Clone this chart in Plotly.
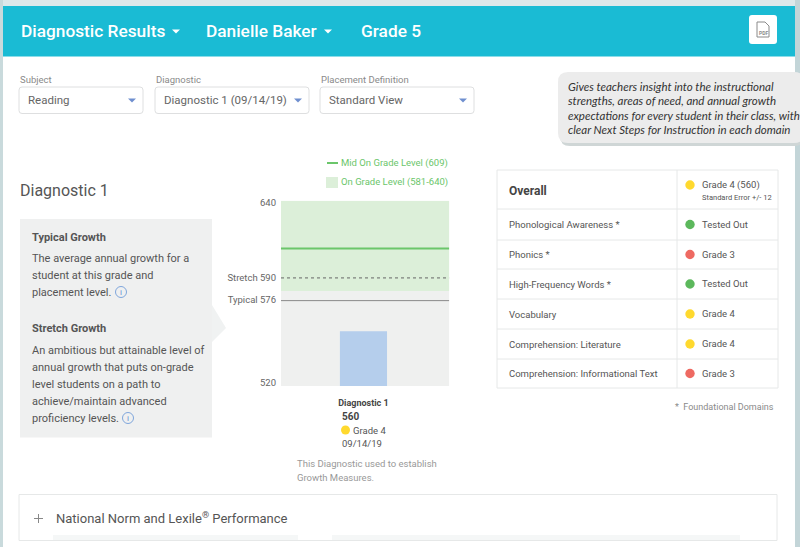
import plotly.graph_objects as go

# Chart values
categories = ['Diagnostic 1']
bar_values = [555.5]  # bar top sits below the printed score of 560
y_min, y_max = 520, 640
x_min, x_max = -0.49, 0.51
y_tick_vals = [522, 576, 590, 639]
y_tick_labels = ['520', 'Typical 576', 'Stretch 590', '640']
mid_level = 609
stretch_level = 590
typical_level = 575.3
band_low, band_high = 581.5, 640

# Table on the right
domains = ['Phonological Awareness *', 'Phonics *', 'High-Frequency Words *', 'Vocabulary',
           'Comprehension: Literature', 'Comprehension: Informational Text']
placements = ['Tested Out', 'Grade 3', 'Tested Out', 'Grade 4', 'Grade 4', 'Grade 3']
row_edges = [170, 209, 240, 269, 299, 329, 359, 388]

status_colors = {'Grade 4': '#FFD92E', 'Grade 3': '#EE6A62', 'Tested Out': '#5CB85C'}

# Text in the side panel, with line positions
panel_lines = [
    ('<b>Typical Growth</b>', 237), ('The average annual growth for a', 258),
    ('student at this grade and', 275), ('placement level.', 292),
    ('<b>Stretch Growth</b>', 328), ('An ambitious but attainable level of', 350),
    ('annual growth that puts on-grade', 367), ('level students on a path to', 384),
    ('achieve/maintain advanced', 401), ('proficiency levels.', 418),
]
callout_lines = ['Gives teachers insight into the instructional',
                 'strengths, areas of need, and annual growth',
                 'expectations for every student in their class, with',
                 'clear Next Steps for Instruction in each domain']

TEAL = '#1ABBD4'
TEXT = '#555555'
PANEL = '#EFF0F0'
LINE = '#E6E8E8'
GREEN = '#6BC66B'
FONT = 'Roboto'

fig = go.Figure()
shapes = []
notes = []


def text(x, y, s, size=10, color=TEXT, anchor='left', family=FONT, weight=None, italic=False):
    font = dict(size=size, color=color, family=family)
    if weight:
        font['weight'] = weight
    if italic:
        font['style'] = 'italic'
    notes.append(dict(x=x, y=y, xref='x', yref='y', text=s, showarrow=False, font=font,
                      xanchor=anchor, yanchor='middle', borderpad=0))


def rect(x0, y0, x1, y1, fill='rgba(0,0,0,0)', line=None, width=1):
    shapes.append(dict(type='rect', xref='x', yref='y', x0=x0, y0=y0, x1=x1, y1=y1, fillcolor=fill,
                       line=dict(color=line or 'rgba(0,0,0,0)', width=width if line else 0), layer='below'))


def path(d, fill='rgba(0,0,0,0)', line=None, width=1):
    shapes.append(dict(type='path', xref='x', yref='y', path=d, fillcolor=fill,
                       line=dict(color=line or 'rgba(0,0,0,0)', width=width if line else 0), layer='below'))


def round_rect(x0, y0, x1, y1, r, fill='rgba(0,0,0,0)', line=None, width=1):
    d = (f'M {x0+r} {y0} L {x1-r} {y0} Q {x1} {y0} {x1} {y0+r} L {x1} {y1-r} Q {x1} {y1} {x1-r} {y1} '
         f'L {x0+r} {y1} Q {x0} {y1} {x0} {y1-r} L {x0} {y0+r} Q {x0} {y0} {x0+r} {y0} Z')
    path(d, fill, line, width)


def circle(x, y, r, fill='rgba(0,0,0,0)', line=None, width=1):
    shapes.append(dict(type='circle', xref='x', yref='y', x0=x-r, y0=y-r, x1=x+r, y1=y+r, fillcolor=fill,
                       line=dict(color=line or 'rgba(0,0,0,0)', width=width if line else 0), layer='below'))


def hline(x0, y, x1, color=LINE, width=1):
    shapes.append(dict(type='line', xref='x', yref='y', x0=x0, y0=y, x1=x1, y1=y,
                       line=dict(color=color, width=width), layer='below'))


def vline(x, y0, y1, color=LINE, width=1):
    shapes.append(dict(type='line', xref='x', yref='y', x0=x, y0=y0, x1=x, y1=y1,
                       line=dict(color=color, width=width), layer='below'))


def caret(x, y, color='#6F8FCF', w=4, h=4):
    path(f'M {x-w} {y-h/2} L {x+w} {y-h/2} L {x} {y+h/2} Z', color)


# Window edges
rect(0, 0, 800, 6, '#DDE8EA')
rect(0, 0, 3, 547, '#C9DADC')
rect(795, 0, 800, 547, '#C3D5D8')
rect(3, 6, 795, 547, '#FFFFFF')

# Header bar
rect(3, 6, 795, 56.5, TEAL)
text(20, 31, 'Diagnostic Results', 17.3, 'white', weight=500)
caret(176, 31.5, 'white')
text(205, 31, 'Danielle Baker', 17.3, 'white', weight=500)
caret(328, 31.5, 'white')
text(360, 31, 'Grade 5', 17.3, 'white', weight=500)
round_rect(749, 15, 777, 44, 3, 'white')
path('M 757 22 L 765 22 L 769 26 L 769 37 L 757 37 Z', 'white', '#8A8A8A', 1)
text(763, 33, '<b>PDF</b>', 5, '#8A8A8A', anchor='center')

# Dropdowns
for x0, x1, label, value in [(19, 143, 'Subject', 'Reading'),
                             (155, 309, 'Diagnostic', 'Diagnostic 1 (09/14/19)'),
                             (320, 474, 'Placement Definition', 'Standard View')]:
    text(x0, 79, label, 9.5, '#8A8A8A')
    round_rect(x0, 87, x1, 113.5, 3, 'white', '#DEDFE0')
    text(x0 + 8, 100, value, 11.5, '#666666')
    caret(x1 - 11, 100.5)

# Callout
round_rect(560, 75, 804, 146, 10, '#CFD6D6')
round_rect(558, 72, 804, 143, 10, '#ECECEC')
for i, line_text in enumerate(callout_lines):
    text(566.5, 86 + i * 14.5, line_text, 11.5, '#333333', family='Lato', italic=True)

# Side panel
text(19, 190, 'Diagnostic 1', 16, '#555555')
rect(20, 219, 212, 437.5, PANEL)
path('M 212 305 L 226 328 L 212 342 Z', '#F0F2F2')
for line_text, y in panel_lines:
    text(31, y, line_text, 11, '#555555')
for x, y in [(121, 292), (128, 418)]:
    circle(x, y, 5.5, 'rgba(0,0,0,0)', '#7FA6DC', 1)
    text(x, y, 'i', 8, '#5F8FD6', anchor='center')

# Legend above the chart
hline(327, 163, 338, GREEN, 2)
text(449, 163, 'Mid On Grade Level (609)', 9.5, GREEN, anchor='right')
rect(326, 177, 338, 188, '#DCEFD9')
text(449, 181.5, 'On Grade Level (581-640)', 9.5, GREEN, anchor='right')

# Under the chart
text(341, 416, '<b>560</b>', 10, '#444444')
circle(345.5, 430, 4.5, status_colors['Grade 4'])
text(352, 430, 'Grade 4', 9.5, '#555555')
text(341, 443.5, '09/14/19', 9.5, '#555555')
text(296, 463, 'This Diagnostic used to establish', 9.5, '#999999')
text(296, 477, 'Growth Measures.', 9.5, '#999999')

# Table
rect(497, 170, 778, 388, 'white', LINE, 1)
vline(677, 170, 388)
for y in row_edges[1:-1]:
    hline(497, y, 778)
text(508, 190.5, '<b>Overall</b>', 12, '#444444')
circle(690, 185, 4.7, status_colors['Grade 4'])
text(700.5, 185, 'Grade 4 (560)', 9.5, '#555555')
text(700.5, 197.5, 'Standard Error +/- 12', 7.5, '#555555')
for i, (domain, placement) in enumerate(zip(domains, placements)):
    y = (row_edges[i + 1] + row_edges[i + 2]) / 2
    text(508, y, domain, 9.5, '#555555')
    circle(690, y, 4.7, status_colors[placement])
    text(700.5, y - 0.5, placement, 9.5, '#555555')
text(775, 406.5, '*  Foundational Domains', 9, '#8A8A8A', anchor='right')

# Bottom card
rect(19, 494.5, 777, 540.5, 'white', LINE, 1)
rect(53, 535, 298, 540, '#F5F7F7')
rect(332, 535, 740, 540, '#F5F7F7')
hline(34, 518.5, 43, '#888888')
vline(38.5, 514, 523, '#888888')
text(55, 518, 'National Norm and Lexile<sup>®</sup> Performance', 13, '#555555')

# The bar chart itself, on its own axes placed over the page
fig.add_trace(go.Scatter(x=[None], y=[None], mode='markers', showlegend=False, hoverinfo='skip'))
fig.add_trace(go.Bar(x=[0], y=bar_values, width=0.28, marker=dict(color='#B5CEEC', line=dict(width=0)),
                     hoverinfo='skip', xaxis='x2', yaxis='y2'))

chart_shapes = [
    dict(type='rect', xref='x2', yref='y2', x0=x_min, x1=x_max, y0=y_min, y1=y_max,
         fillcolor='#EFF0EF', line=dict(width=0), layer='below'),
    dict(type='rect', xref='x2', yref='y2', x0=x_min, x1=x_max, y0=band_low, y1=band_high,
         fillcolor='#DCEFD9', line=dict(width=0), layer='below'),
    dict(type='line', xref='x2', yref='y2', x0=x_min, x1=x_max, y0=mid_level, y1=mid_level,
         line=dict(color=GREEN, width=2), layer='above'),
    dict(type='line', xref='x2', yref='y2', x0=x_min, x1=x_max, y0=stretch_level, y1=stretch_level,
         line=dict(color='#666666', width=1, dash='3px,3px'), layer='above'),
    dict(type='line', xref='x2', yref='y2', x0=x_min, x1=x_max, y0=typical_level, y1=typical_level,
         line=dict(color='#8A8A8A', width=1), layer='above'),
]

fig.update_layout(
    template='none',
    width=800, height=547, margin=dict(l=0, r=0, t=0, b=0),
    paper_bgcolor='white', plot_bgcolor='rgba(0,0,0,0)', showlegend=False,
    font=dict(family=FONT, color=TEXT),
    shapes=shapes + chart_shapes, annotations=notes,
    xaxis=dict(domain=[0, 1], range=[0, 800], visible=False, fixedrange=True),
    yaxis=dict(domain=[0, 1], range=[547, 0], visible=False, fixedrange=True),
    xaxis2=dict(domain=[281 / 800, 449.3 / 800], range=[x_min, x_max], anchor='y2', fixedrange=True,
                showgrid=False, zeroline=False, showline=False, ticks='outside', ticklen=8,
                tickcolor='rgba(0,0,0,0)', tickvals=[0], ticktext=['<b>' + c + '</b>' for c in categories],
                tickfont=dict(size=9, color='#444444')),
    yaxis2=dict(domain=[1 - 386 / 547, 1 - 200.7 / 547], range=[y_min, y_max], anchor='x2', fixedrange=True,
                showgrid=False, zeroline=False, showline=False, ticks='', ticklabelstandoff=4,
                tickvals=y_tick_vals, ticktext=y_tick_labels, tickfont=dict(size=9.5, color='#666666')),
)

fig.write_html("out.html", post_script="document.body.style.margin='0';document.body.style.overflow='hidden';",
               config=dict(displayModeBar=False))
